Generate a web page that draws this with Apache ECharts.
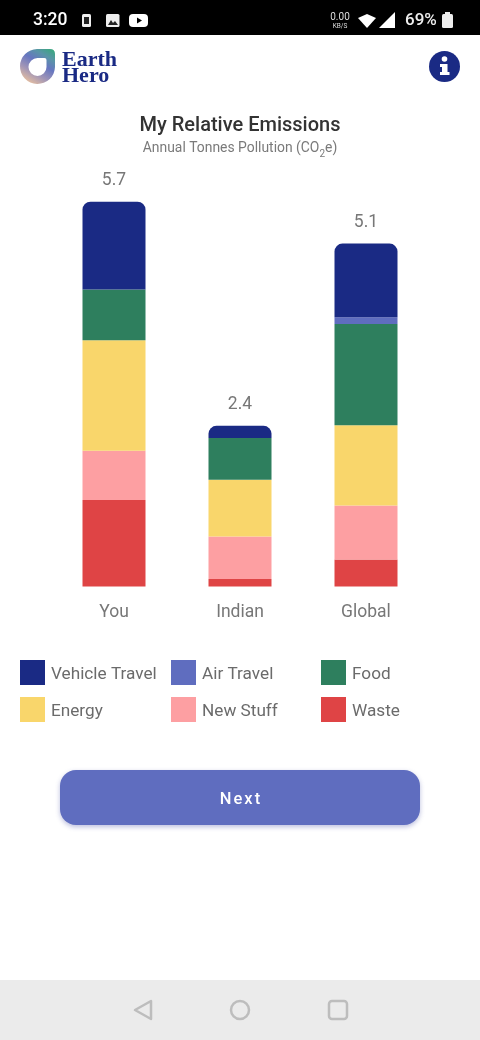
<!DOCTYPE html>
<html>
<head>
<meta charset="utf-8">
<style>html,body{margin:0;padding:0;background:#fff}#c{width:480px;height:1040px}
#next{position:absolute;left:60px;top:771px;width:362px;height:55px;line-height:55px;text-align:center;color:#fff;font:500 16.5px/55px Roboto,sans-serif;letter-spacing:2px}</style>
<script src="https://cdn.jsdelivr.net/npm/echarts@6/dist/echarts.min.js"></script>
</head>
<body>
<div id="c"></div>
<div id="next">Next</div>
<script>
const categories = ['You', 'Indian', 'Global'];
const vehicleTravel = [1.30, 0.18, 1.09];
const airTravel = [0, 0, 0.10];
const food = [0.75, 0.62, 1.50];
const energy = [1.64, 0.84, 1.19];
const newStuff = [0.73, 0.63, 0.80];
const waste = [1.28, 0.11, 0.40];
const totals = [5.7, 2.4, 5.1];
const legendNames = ['Vehicle Travel', 'Air Travel', 'Food', 'Energy', 'New Stuff', 'Waste'];

const C = {vehicle:'#1A2A84', air:'#5F6DBF', food:'#2E7F5E', energy:'#F9D66B', stuff:'#FD9FA2', waste:'#DF4445'};
const F = 'Roboto, sans-serif';
const chart = echarts.init(document.getElementById('c'), null, {renderer:'canvas', width:480, height:1040});

echarts.graphic.registerShape('logoDrop', echarts.graphic.extendPath(
  'M37 49 L50 49 Q55 49 55 54 L55 67 A17.5 17.5 0 1 1 37 49 Z M37.5 58 A9 9 0 1 0 46.5 67 L46.5 60 Q46.5 58 44.5 58 Z', {}));

function seg(name, data, color, extra) {
  return Object.assign({name, type:'bar', stack:'t', data, barWidth:63, itemStyle:{color}, silent:true, animation:false}, extra||{});
}
const legendX = [20, 171, 321], legendY = [660, 697];
const legends = legendNames.map((n,i)=>({
  data:[n], left:legendX[i%3], top:legendY[Math.floor(i/3)], padding:0, orient:'horizontal',
  itemWidth:25, itemHeight:25, icon:'rect', selectedMode:false,
  formatter:'{t|{name}}',
  textStyle:{rich:{t:{fontFamily:F, fontSize:17.2, color:'#6b6b6b', padding:[4,0,0,1]}}}
}));

const txt = (x,y,text,font,fill,align,extra)=>({type:'text', x, y, silent:true,
  style:Object.assign({text, font, fill, align:align||'left', verticalAlign:'middle'}, extra||{})});

const graphics = [
  // status bar
  {type:'rect', shape:{x:0,y:0,width:480,height:35}, style:{fill:'#000'}, silent:true},
  txt(33,21,'3:20','500 17.5px '+F,'#fff'),
  {type:'rect', shape:{x:82,y:14,width:9,height:13,r:1.5}, style:{fill:'#eee'}, silent:true},
  {type:'rect', shape:{x:84,y:17,width:5,height:7}, style:{fill:'#222'}, silent:true},
  {type:'rect', shape:{x:106,y:14,width:13.5,height:13,r:1.5}, style:{fill:'#eee'}, silent:true},
  {type:'polygon', shape:{points:[[108,25],[111,20],[113,23],[115,21],[118,25]]}, style:{fill:'#222'}, silent:true},
  {type:'rect', shape:{x:129,y:14,width:19,height:13,r:4}, style:{fill:'#fff'}, silent:true},
  {type:'polygon', shape:{points:[[137,17.5],[137,23.5],[142,20.5]]}, style:{fill:'#000'}, silent:true},
  txt(340,17,'0.00','400 10px '+F,'#ddd','center'),
  txt(340,26,'KB/S','400 6.5px '+F,'#ddd','center'),
  {type:'polygon', shape:{points:[[358,18],[367,14],[376,18],[367,28]]}, style:{fill:'#fff'}, silent:true},
  {type:'polygon', shape:{points:[[379,28],[395,12],[395,28]]}, style:{fill:'#fff'}, silent:true},
  txt(405,21,'69%','500 17px '+F,'#eee'),
  {type:'rect', shape:{x:442,y:14,width:11,height:14,r:1.5}, style:{fill:'#eee'}, silent:true},
  {type:'rect', shape:{x:445,y:12,width:5,height:3}, style:{fill:'#eee'}, silent:true},
  // logo
  {type:'logoDrop', silent:true,
   style:{fill:new echarts.graphic.LinearGradient(0.85,0,0.25,1,[
     {offset:0,color:'#3DA583'},{offset:0.2,color:'#5A94A8'},{offset:0.42,color:'#6676C0'},{offset:0.7,color:'#A296B6'},{offset:1,color:'#EBC29F'}]), fillRule:'evenodd'}},
  txt(62,60.5,'Earth','bold 22px "Liberation Serif", serif','#1A2A84'),
  txt(62,76,'Hero','bold 22px "Liberation Serif", serif','#1A2A84'),
  // info
  {type:'circle', shape:{cx:444.5,cy:66.5,r:15.5}, style:{fill:'#1A2A84'}, silent:true},
  {type:'circle', shape:{cx:444.5,cy:59,r:2.8}, style:{fill:'#fff'}, silent:true},
  {type:'polygon', shape:{points:[[440,64],[447.5,64],[447.5,72],[449.5,72],[449.5,75],[440,75],[440,72],[442,72],[442,67],[440,67]]}, style:{fill:'#fff'}, silent:true},
  // button
  {type:'rect', shape:{x:60,y:770,width:360,height:55,r:16},
   style:{fill:'#5F6DBF', shadowBlur:5, shadowOffsetY:2, shadowColor:'rgba(60,70,160,0.35)'}, silent:true},
  // nav bar
  {type:'rect', shape:{x:0,y:980,width:480,height:60}, style:{fill:'#EBEBEB'}, silent:true},
  {type:'polygon', shape:{points:[[135,1010],[151,1001],[151,1019]]}, style:{fill:'none',stroke:'#BDBDBD',lineWidth:2.5,lineJoin:'round'}, silent:true},
  {type:'circle', shape:{cx:240,cy:1010,r:9}, style:{fill:'none',stroke:'#BDBDBD',lineWidth:2.5}, silent:true},
  {type:'rect', shape:{x:329,y:1001,width:18,height:18,r:3}, style:{fill:'none',stroke:'#BDBDBD',lineWidth:2.5}, silent:true}
];

chart.setOption({
  animation:false,
  backgroundColor:'#fff',
  title:[
    {text:'My Relative Emissions', left:'center', top:116, padding:0,
     textStyle:{fontFamily:F, fontSize:20, fontWeight:500, color:'#333'}},
    {text:'{a|Annual Tonnes Pollution (CO}{s|2}{a|e)}', left:'center', top:139, padding:0,
     textStyle:{fontWeight:'normal', rich:{a:{fontFamily:F, fontSize:13.9, fontWeight:'normal', color:'#7a7a7a'}, s:{fontFamily:F, fontSize:10, fontWeight:'normal', color:'#7a7a7a', verticalAlign:'bottom', padding:[10,0,0,0]}}}}
  ],
  legend:legends,
  grid:{left:51, width:378, top:181.5, height:405},
  xAxis:{type:'category', data:categories, axisLine:{show:false}, axisTick:{show:false}, splitLine:{show:false},
    axisLabel:{fontFamily:F, fontSize:17.5, color:'#777', margin:17}},
  yAxis:{type:'value', min:0, max:6, show:false},
  series:[
    seg('Waste', waste, C.waste),
    seg('New Stuff', newStuff, C.stuff),
    seg('Energy', energy, C.energy),
    seg('Food', food, C.food),
    seg('Air Travel', airTravel, C.air),
    seg('Vehicle Travel', vehicleTravel, C.vehicle, {
      itemStyle:{color:C.vehicle, borderRadius:[8,8,0,0]},
      label:{show:true, position:'top', distance:12, fontFamily:F, fontSize:17.5, color:'#777',
        formatter:p=>totals[p.dataIndex].toFixed(1)}
    })
  ],
  graphic:graphics
});
</script>
</body>
</html>
